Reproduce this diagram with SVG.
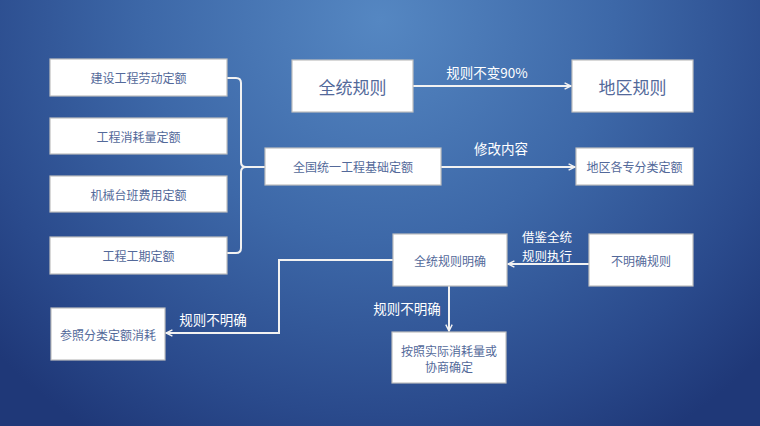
<svg xmlns="http://www.w3.org/2000/svg" width="760" height="426" viewBox="0 0 760 426">
<defs>
<radialGradient id="bg" gradientUnits="userSpaceOnUse" cx="380" cy="20" r="520" gradientTransform="translate(380 20) scale(1 0.95) translate(-380 -20)">
<stop offset="0" stop-color="#5587c2"/>
<stop offset="0.45" stop-color="#3d68a8"/>
<stop offset="0.8" stop-color="#2a4a8c"/>
<stop offset="1" stop-color="#1f3878"/>
</radialGradient>
<marker id="ah" viewBox="0 0 10 10" refX="9" refY="5" markerWidth="8" markerHeight="8" markerUnits="userSpaceOnUse" orient="auto">
<path d="M1,1 L9,5 L1,9" fill="none" stroke="#f2f2f2" stroke-width="1.8"/>
</marker>
<style>
.box{fill:#ffffff;stroke:#bfbfbf;stroke-width:1.2}
.t{font-family:"Noto Sans CJK SC","Liberation Sans",sans-serif;fill:#53699a;text-anchor:middle;dominant-baseline:central;font-size:12px}
.big{font-size:17px}
.lbl{font-family:"Noto Sans CJK SC","Liberation Sans",sans-serif;fill:#ffffff;text-anchor:middle;dominant-baseline:central;font-size:13.5px}
.c{fill:none;stroke:#f2f2f2;stroke-width:2}
</style>
</defs>
<rect width="760" height="426" fill="url(#bg)"/>
<g id="connectors">
<path class="c" d="M227,78 L236,78 Q241,78 241,83 L241,162 Q241,167 246,167 L265,167 M246,167 Q241,167 241,172 L241,248 Q241,253 236,253 L227,253"/>
<line class="c" x1="413" y1="86" x2="571" y2="86" marker-end="url(#ah)"/>
<line class="c" x1="441" y1="167" x2="575" y2="167" marker-end="url(#ah)"/>
<line class="c" x1="589" y1="264" x2="508" y2="264" marker-end="url(#ah)"/>
<line class="c" x1="449" y1="286" x2="449" y2="331" marker-end="url(#ah)"/>
<polyline class="c" points="393,260 279,260 279,333 166,333" marker-end="url(#ah)"/>
<text class="lbl" x="487" y="72">规则不变90%</text>
<text class="lbl" x="501" y="148">修改内容</text>
<text class="lbl" x="547" y="236.5" style="font-size:12.5px">借鉴全统<tspan x="547" dy="18.5">规则执行</tspan></text>
<text class="lbl" x="407" y="308">规则不明确</text>
<text class="lbl" x="213" y="319">规则不明确</text>
</g>
<g id="n1"><rect class="box" x="50" y="59" width="177" height="37"/><text class="t" x="138.5" y="77.5">建设工程劳动定额</text></g>
<g id="n2"><rect class="box" x="50" y="118" width="177" height="36"/><text class="t" x="138.5" y="136">工程消耗量定额</text></g>
<g id="n3"><rect class="box" x="50" y="176" width="177" height="36"/><text class="t" x="138.5" y="194">机械台班费用定额</text></g>
<g id="n4"><rect class="box" x="50" y="237" width="177" height="37"/><text class="t" x="138.5" y="255.5">工程工期定额</text></g>
<g id="n5"><rect class="box" x="265" y="148" width="176" height="37"/><text class="t" x="353" y="166.5">全国统一工程基础定额</text></g>
<g id="n6"><rect class="box" x="292" y="60" width="121" height="52"/><text class="t big" x="352.5" y="86">全统规则</text></g>
<g id="n7"><rect class="box" x="572" y="60" width="121" height="52"/><text class="t big" x="632.5" y="86">地区规则</text></g>
<g id="n8"><rect class="box" x="576" y="148" width="117" height="37"/><text class="t" x="634.5" y="166.5">地区各专分类定额</text></g>
<g id="n9"><rect class="box" x="393" y="234" width="114" height="52"/><text class="t" x="450" y="260">全统规则明确</text></g>
<g id="n10"><rect class="box" x="589" y="234" width="104" height="52"/><text class="t" x="641" y="260">不明确规则</text></g>
<g id="n11"><rect class="box" x="392" y="332" width="114" height="51"/><text class="t" x="449" y="350">按照实际消耗量或<tspan x="449" dy="16">协商确定</tspan></text></g>
<g id="n12"><rect class="box" x="51" y="308" width="114" height="52"/><text class="t" x="108" y="334">参照分类定额消耗</text></g>
</svg>
